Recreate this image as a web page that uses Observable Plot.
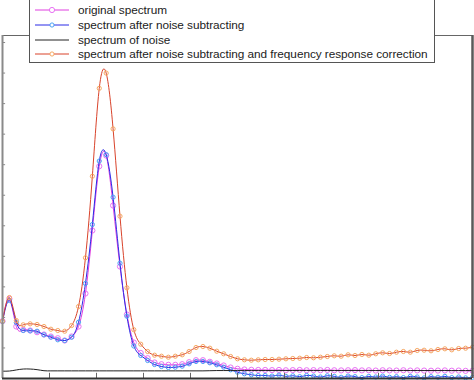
<!DOCTYPE html>
<html><head><meta charset="utf-8">
<script src="https://cdn.jsdelivr.net/npm/d3@7"></script>
<script src="https://cdn.jsdelivr.net/npm/@observablehq/plot@0.6"></script>
<style>
html,body{margin:0;padding:0;background:#fff;}
#wrap{position:relative;width:474px;height:380px;overflow:hidden;font-family:"Liberation Sans",Arial,sans-serif;}
#wrap svg.plot{position:absolute;left:0;top:0;}
#legend{position:absolute;left:29px;top:-3px;width:406px;height:66px;border:1px solid #555;background:#fff;box-sizing:border-box;}
.row{position:absolute;left:0;width:100%;height:16px;}
.row svg{position:absolute;left:5px;top:1px;}
.row span{position:absolute;left:48px;top:0;line-height:16px;font-size:11.8px;letter-spacing:-0.05px;color:#222;white-space:nowrap;}
</style>
</head><body>
<div id="wrap"></div>
<script>
// sample index 0..68 (frequency bins), values in arbitrary units
const original = [1.876, 2.609, 1.702, 1.594, 1.571, 1.516, 1.440, 1.375, 1.319, 1.244,
  1.375, 1.702, 2.782, 4.845, 6.95, 7.3, 5.663, 3.666, 2.095, 1.178,
  0.835, 0.664, 0.524, 0.468, 0.448, 0.448, 0.468, 0.534, 0.599, 0.599,
  0.547, 0.491, 0.426, 0.360, 0.318, 0.295, 0.285, 0.28, 0.28, 0.275,
  0.28, 0.27, 0.275, 0.28, 0.27, 0.275, 0.27, 0.28, 0.27, 0.265,
  0.27, 0.275, 0.265, 0.27, 0.26, 0.27, 0.265, 0.26, 0.27, 0.26,
  0.265, 0.26, 0.255, 0.26, 0.265, 0.255, 0.26, 0.25, 0.255];
const subtracted = [1.866, 2.553, 1.833, 1.571, 1.561, 1.548, 1.430, 1.352, 1.267, 1.244,
  1.352, 1.843, 3.110, 5.041, 7.12, 7.33, 5.935, 3.774, 2.039, 1.064,
  0.753, 0.589, 0.458, 0.393, 0.360, 0.370, 0.403, 0.481, 0.556, 0.556,
  0.514, 0.448, 0.370, 0.285, 0.206, 0.154, 0.121, 0.098, 0.10, 0.08,
  0.11, 0.07, 0.09, 0.06, 0.10, 0.08, 0.05, 0.09, 0.07, 0.04,
  0.08, 0.06, 0.03, 0.07, 0.05, 0.08, 0.04, 0.06, 0.03, 0.07,
  0.05, 0.02, 0.06, 0.04, 0.07, 0.03, 0.05, 0.02, 0.04];
const noise = [0.24, 0.245, 0.28, 0.31, 0.31, 0.29, 0.255, 0.25, 0.25, 0.25,
  0.25, 0.25, 0.25, 0.25, 0.25, 0.25, 0.25, 0.25, 0.25, 0.25,
  0.25, 0.25, 0.25, 0.25, 0.25, 0.25, 0.25, 0.25, 0.25, 0.25,
  0.255, 0.26, 0.26, 0.26, 0.26, 0.26, 0.26, 0.26, 0.26, 0.26,
  0.26, 0.26, 0.26, 0.26, 0.26, 0.26, 0.26, 0.26, 0.26, 0.26,
  0.26, 0.26, 0.26, 0.26, 0.26, 0.26, 0.26, 0.26, 0.26, 0.26,
  0.26, 0.26, 0.26, 0.26, 0.26, 0.26, 0.26, 0.26, 0.26];
const corrected = [1.876, 2.651, 1.898, 1.758, 1.790, 1.768, 1.702, 1.614, 1.571, 1.548,
  1.735, 2.357, 3.951, 6.622, 9.5, 10.0, 8.173, 5.313, 2.969, 1.597,
  1.123, 0.884, 0.763, 0.730, 0.697, 0.730, 0.776, 0.884, 1.015, 1.047,
  0.992, 0.894, 0.809, 0.720, 0.645, 0.612, 0.599, 0.612, 0.622, 0.622,
  0.632, 0.645, 0.655, 0.664, 0.687, 0.678, 0.697, 0.720, 0.743, 0.730,
  0.776, 0.753, 0.786, 0.763, 0.809, 0.841, 0.818, 0.861, 0.884, 0.861,
  0.917, 0.926, 0.907, 0.949, 0.972, 0.939, 0.982, 0.992, 1.025];
const xTicks = [0, 6.8, 13.6, 20.4, 27.2, 34, 40.8, 47.6, 54.4, 61.2, 68];
const yTicks = [0, 1, 2, 3, 4, 5, 6, 7, 8, 9, 10, 11];
const xMax = 68, yTop = 11.23;
const legendLabels = ["original spectrum", "spectrum after noise subtracting", "spectrum of noise",
  "spectrum after noise subtracting and frequency response correction"];

const toRows = vals => vals.map((v, i) => ({x: i, y: v}));
const rO = toRows(original), rS = toRows(subtracted), rN = toRows(noise), rC = toRows(corrected);

const styles = [
  {line: "#e03ee0", dot: "#e872f4", r: 2.6},
  {line: "#2b2be6", dot: "#4aa2f4", r: 2.1},
  {line: "#222222", dot: null, r: 0},
  {line: "#d9432b", dot: "#f6a862", r: 2.1}
];

const plot = Plot.plot({
  width: 474, height: 380,
  marginLeft: 2, marginRight: 2, marginTop: 35, marginBottom: 2,
  x: {domain: [0, xMax], axis: null},
  y: {domain: [0, yTop], axis: null},
  marks: [
    Plot.line(rO, {x: "x", y: "y", stroke: styles[0].line, strokeWidth: 1, curve: "natural"}),
    Plot.dot(rO, {x: "x", y: "y", r: styles[0].r, stroke: styles[0].dot, fill: "none", strokeWidth: 1}),
    Plot.line(rS, {x: "x", y: "y", stroke: styles[1].line, strokeWidth: 1, curve: "natural"}),
    Plot.dot(rS, {x: "x", y: "y", r: styles[1].r, stroke: styles[1].dot, fill: "none", strokeWidth: 1}),
    Plot.line(rN, {x: "x", y: "y", stroke: styles[2].line, strokeWidth: 1, curve: "natural"}),
    Plot.line(rC, {x: "x", y: "y", stroke: styles[3].line, strokeWidth: 1, curve: "natural"}),
    Plot.dot(rC, {x: "x", y: "y", r: styles[3].r, stroke: styles[3].dot, fill: "none", strokeWidth: 1}),
    // ticks (inward)
    Plot.ruleY(yTicks, {x1: 0, x2: 0.45, stroke: "#888", strokeWidth: 1}),
    Plot.ruleX(xTicks, {y1: 0, y2: 0.17, stroke: "#666", strokeWidth: 1}),
    // frame
    Plot.ruleY([yTop], {stroke: "#666", strokeWidth: 1}),
    Plot.ruleX([0], {stroke: "#8a8a8a", strokeWidth: 2}),
    Plot.ruleX([xMax], {stroke: "#5a5a5a", strokeWidth: 2.5}),
    Plot.ruleY([0], {stroke: "#333", strokeWidth: 2})
  ]
});
plot.classList.add("plot");
const wrap = document.getElementById("wrap");
wrap.appendChild(plot);

// legend
const legend = document.createElement("div");
legend.id = "legend";
const rowCenters = [12, 27.3, 41.5, 55.7];
legendLabels.forEach((lab, k) => {
  const row = document.createElement("div");
  row.className = "row";
  row.style.top = (rowCenters[k] - 8) + "px";
  const st = styles[k];
  let svg = `<svg width="36" height="14"><line x1="0" x2="34" y1="7" y2="7" stroke="${st.line}" stroke-width="1"/>`;
  if (st.dot) svg += `<circle cx="17" cy="7" r="${st.r}" fill="#fff" stroke="${st.dot}"/>`;
  svg += `</svg>`;
  row.innerHTML = svg + `<span>${lab}</span>`;
  legend.appendChild(row);
});
wrap.appendChild(legend);
</script>
</body></html>
